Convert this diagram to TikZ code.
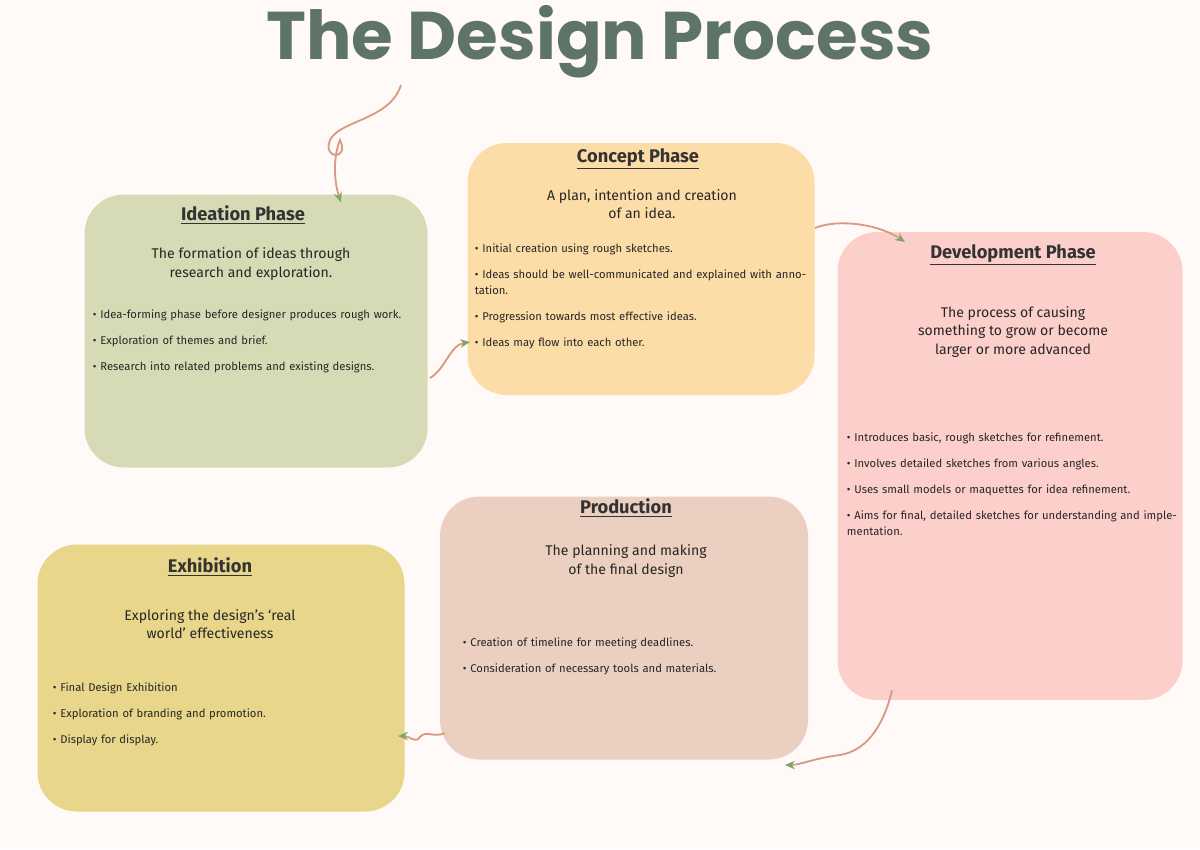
\documentclass[tikz,border=0pt]{standalone}
\usepackage{fontspec}
\setmainfont{Fira Sans}
\newfontfamily\titlefont{Poppins}
\usetikzlibrary{positioning}
\usetikzlibrary{calc}
\usetikzlibrary{arrows.meta}
\definecolor{bgcol}{HTML}{FFFAF7}
\definecolor{titlecol}{HTML}{5E7369}
\definecolor{ideacol}{HTML}{D6DBB5}
\definecolor{conccol}{HTML}{FCDDA8}
\definecolor{devcol}{HTML}{FDCFCB}
\definecolor{prodcol}{HTML}{EBCFC0}
\definecolor{exhcol}{HTML}{E8D68A}
\definecolor{curlcol}{HTML}{D89A84}
\definecolor{tipcol}{HTML}{7FA46A}
\begin{document}
\begin{tikzpicture}[x=0.025cm,y=-0.025cm,
			box/.style={rounded corners=28pt,inner sep=0pt},
			head/.style={font=\fontsize{13}{15}\selectfont\bfseries,text=black!80},
			lead/.style={font=\fontsize{10}{13}\selectfont,align=center,text=black!85},
			pts/.style={font=\fontsize{8}{11.5}\selectfont,align=left,anchor=north west,text=black!85},
			curl/.style={draw=curlcol,line width=1.3pt,-{Stealth[color=tipcol,length=7pt,width=6pt]}}]
			
			\fill[bgcol] (0,0) rectangle (1200,849);
			\node[font=\titlefont\fontsize{48}{50}\selectfont\bfseries,text=titlecol] (title) at (600,42) {The Design Process};
			
			% phase boxes
			\node[box,fill=ideacol,minimum width=343*0.025cm,minimum height=273*0.025cm] (idea) at (256,331) {};
			\node[box,fill=conccol,minimum width=347*0.025cm,minimum height=252*0.025cm] (conc) at (641,269) {};
			\node[box,fill=devcol,minimum width=345*0.025cm,minimum height=468*0.025cm] (dev) at (1010,466) {};
			\node[box,fill=prodcol,minimum width=368*0.025cm,minimum height=263*0.025cm] (prod) at (624,628) {};
			\node[box,fill=exhcol,minimum width=367*0.025cm,minimum height=267*0.025cm] (exh) at (221,678) {};
			
			% texts
			\node[head] (ideah) at (243,215) {\underline{Ideation Phase}};
			\node[lead] (ideal) at (251,264) {The formation of ideas through\\research and exploration.};
			\node[pts,text width=335*0.025cm] (ideap) at (88,305) {• Idea-forming phase before designer produces rough work.\\[7pt]• Exploration of themes and brief.\\[7pt]• Research into related problems and existing designs.};
			
			\node[head] (conch) at (638,159) {\underline{Concept Phase}};
			\node[lead] (concl) at (642,204) {A plan, intention and creation\\of an idea.};
			\node[pts,text width=335*0.025cm] (concp) at (470,239) {• Initial creation using rough sketches.\\[7pt]• Ideas should be well-communicated and explained with annotation.\\[7pt]• Progression towards most effective ideas.\\[7pt]• Ideas may flow into each other.};
			
			\node[head] (devh) at (1013,255) {\underline{Development Phase}};
			\node[lead] (devl) at (1013,332) {The process of causing\\something to grow or become\\larger or more advanced};
			\node[pts,text width=338*0.025cm] (devp) at (842,428) {• Introduces basic, rough sketches for refinement.\\[7pt]• Involves detailed sketches from various angles.\\[7pt]• Uses small models or maquettes for idea refinement.\\[7pt]• Aims for final, detailed sketches for understanding and implementation.};
			
			\node[head] (prodh) at (626,508) {\underline{Production}};
			\node[lead] (prodl) at (626,561) {The planning and making\\of the final design};
			\node[pts,text width=350*0.025cm] (prodp) at (458,633) {• Creation of timeline for meeting deadlines.\\[7pt]• Consideration of necessary tools and materials.};
			
			\node[head] (exhh) at (210,567) {\underline{Exhibition}};
			\node[lead] (exhl) at (210,624) {Exploring the design’s ‘real\\world’ effectiveness};
			\node[pts,text width=350*0.025cm] (exhp) at (48,678) {• Final Design Exhibition\\[7pt]• Exploration of branding and promotion.\\[7pt]• Display for display.};
			
			% curly connectors
			\coordinate (start) at (401,85);
			\draw[curl] (start) .. controls (390,120) and (340,120) .. (330,140) .. controls (322,160) and (350,160) .. (340,140) .. controls (332,160) and (335,185) .. ($(idea.north)+(85,8)$);
			\draw[curl] ($(idea.east)+(2,47)$) .. controls (445,370) and (450,345) .. (470,342);
			\draw[curl] ($(conc.east)+(0,-41)$) .. controls (840,218) and (880,225) .. (905,242);
			\draw[curl] ($(dev.south)+(-118,-10)$) .. controls (885,720) and (870,750) .. (840,755) .. controls (815,758) and (800,765) .. (785,765);
			\draw[curl] ($(prod.west)+(5,105)$) .. controls (435,738) and (425,730) .. (420,737) .. controls (415,744) and (410,736) .. (398,736);
			\end{tikzpicture}
\end{document}
